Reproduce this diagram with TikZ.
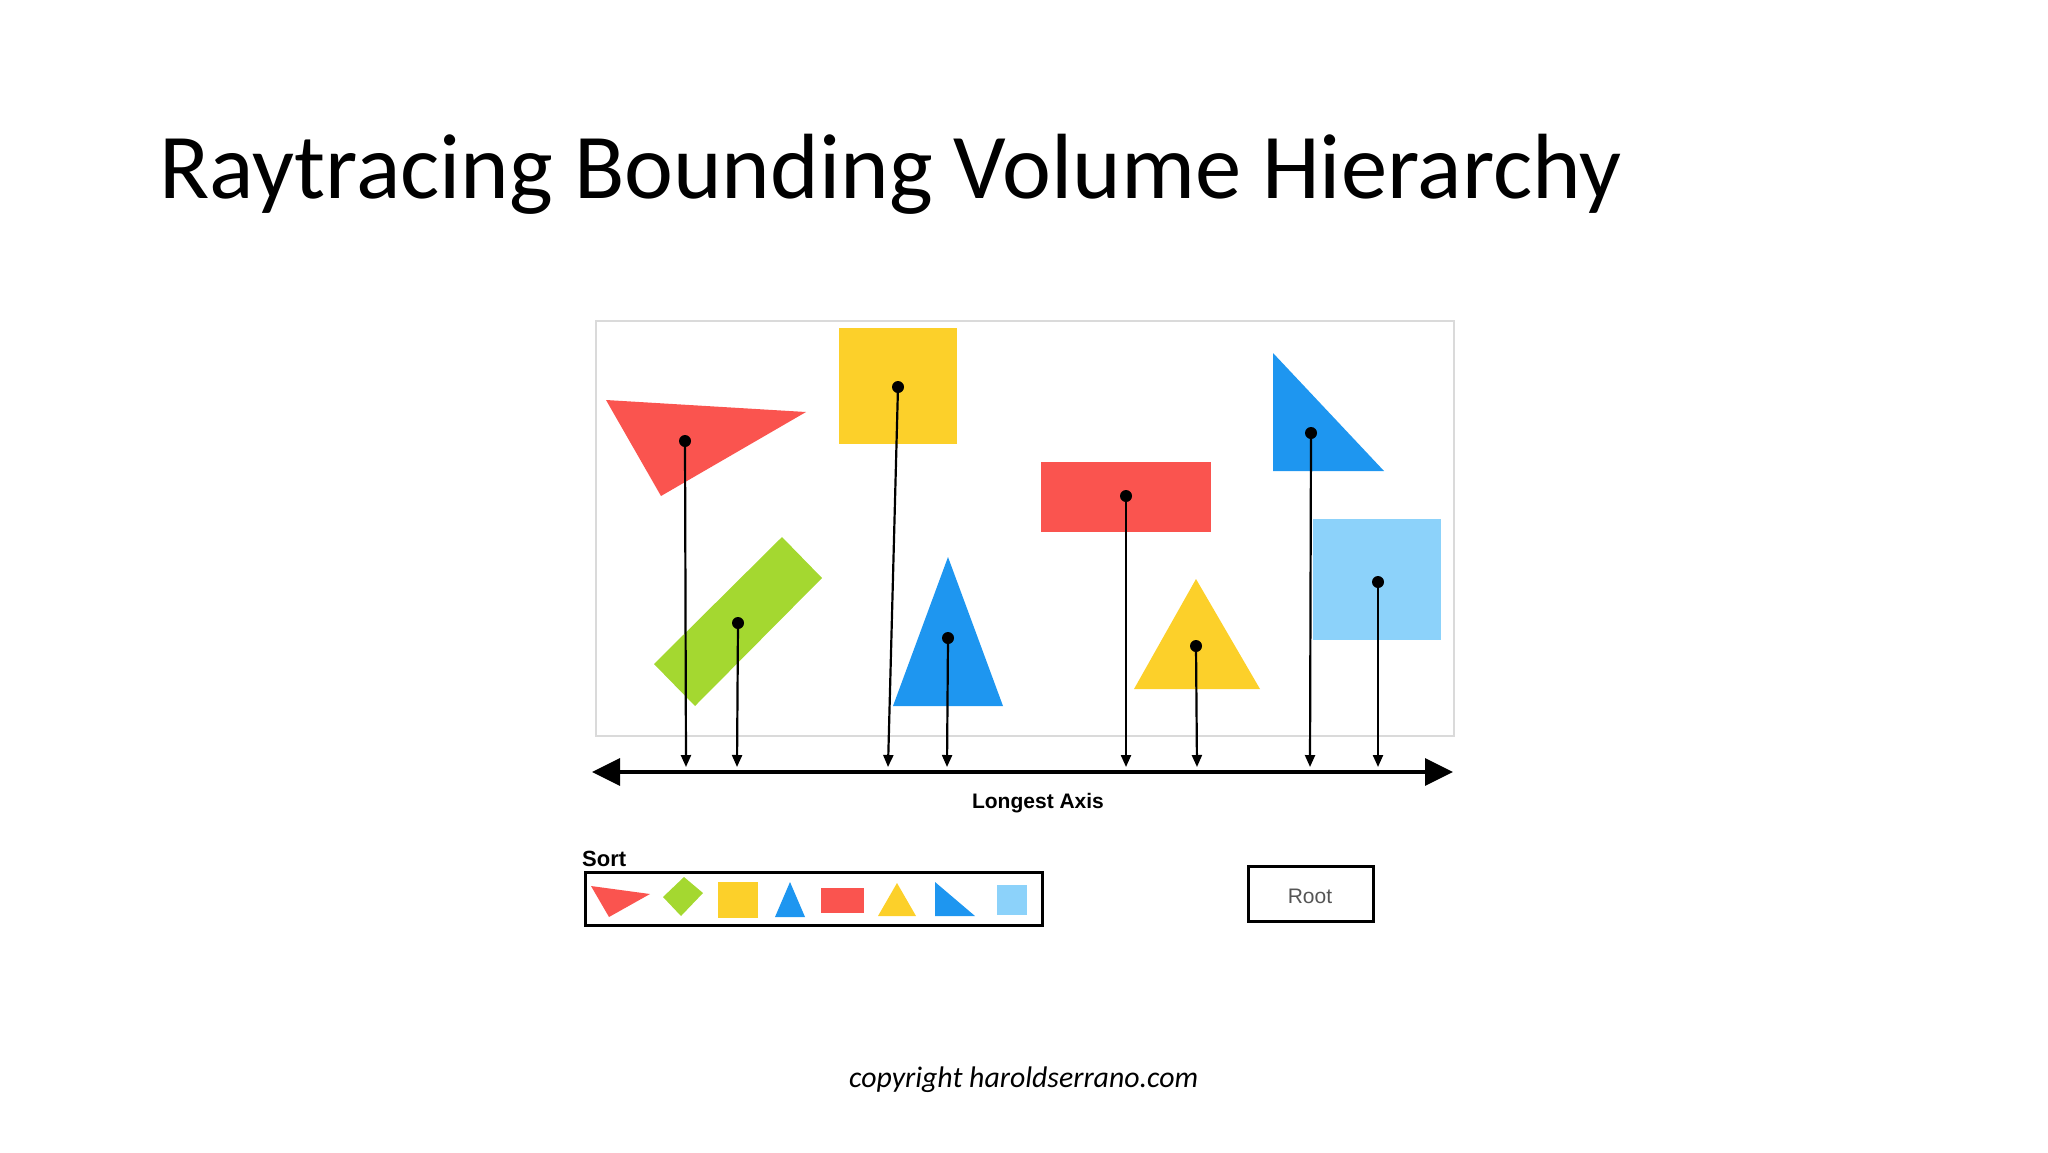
\documentclass[tikz,border=0pt]{standalone}
\usepackage{fontspec}
\setmainfont{Carlito}
\newfontfamily\arialfont{Liberation Sans}
\usetikzlibrary{arrows.meta}
\definecolor{cred}{RGB}{250,84,79}
\definecolor{cyellow}{RGB}{252,208,42}
\definecolor{cgreen}{RGB}{164,216,48}
\definecolor{cblue}{RGB}{30,150,240}
\definecolor{clblue}{RGB}{140,210,250}
\definecolor{cframe}{RGB}{218,218,218}
\definecolor{croot}{RGB}{85,85,85}
\tikzset{
  dotnode/.style={circle,fill=black,inner sep=0pt,minimum size=12pt},
  tickarrow/.style={line width=2.2pt,-{Triangle[length=12pt,width=10pt]}},
  axisline/.style={line width=3.5pt,{Triangle[length=28pt,width=27pt]}-{Triangle[length=28pt,width=27pt]}},
  boxnode/.style={draw=black,line width=3pt,inner sep=0pt},
  lbl/.style={inner sep=0pt}
}
\begin{document}
\begin{tikzpicture}[x=1pt,y=-1pt]
\useasboundingbox (0,0) rectangle (2048,1152);
% title
\node[lbl,anchor=base west] (title) at (159,198) {\resizebox{1462pt}{!}{\fontsize{90}{90}\selectfont Raytracing Bounding Volume Hierarchy}};
% frame
\draw[cframe,line width=2pt] (596,321) rectangle (1454,736);
% shapes
\fill[cred] (606,400) -- (806,412) -- (661,496) -- cycle;
\fill[cyellow] (839,328) rectangle (957,444);
\fill[cgreen] (782,537) -- (822,578) -- (695,706) -- (654,664) -- cycle;
\fill[cblue] (948,557) -- (1003,706) -- (893,706) -- cycle;
\fill[cred] (1041,462) rectangle (1211,532);
\fill[cyellow] (1196,579) -- (1260,689) -- (1134,689) -- cycle;
\fill[cblue] (1273,353) -- (1384,471) -- (1273,471) -- cycle;
\fill[clblue] (1313,519) rectangle (1441,640);
% dots
\node[dotnode] (d1) at (685,441) {};
\node[dotnode] (d2) at (738,623) {};
\node[dotnode] (d3) at (898,387) {};
\node[dotnode] (d4) at (948,638) {};
\node[dotnode] (d5) at (1126,496) {};
\node[dotnode] (d6) at (1196,646) {};
\node[dotnode] (d7) at (1311,433) {};
\node[dotnode] (d8) at (1378,582) {};
% tick targets
\coordinate (t1) at (686,767);
\coordinate (t2) at (737,767);
\coordinate (t3) at (888,767);
\coordinate (t4) at (947,767);
\coordinate (t5) at (1126,767);
\coordinate (t6) at (1197,767);
\coordinate (t7) at (1310,767);
\coordinate (t8) at (1378,767);
\foreach \i in {1,...,8} {\draw[tickarrow] (d\i.center) -- (t\i);}
% axis
\coordinate (axL) at (592,772);
\coordinate (axR) at (1453,772);
\draw[axisline] (axL) -- (axR);
\node[lbl,anchor=base] (axlabel) at (1038,808) {\arialfont\bfseries\fontsize{21}{21}\selectfont Longest Axis};
% sort
\node[lbl,anchor=base west] (sortlbl) at (582,866) {\arialfont\bfseries\fontsize{22}{22}\selectfont Sort};
\node[boxnode,minimum width=457pt,minimum height=53pt] (sortbox) at (814,899) {};
\fill[cred] (591,886) -- (650,894) -- (609,917) -- cycle;
\fill[cgreen] (663,897) -- (684,877) -- (703,893) -- (681,916) -- cycle;
\fill[cyellow] (718,882) rectangle (758,918);
\fill[cblue] (790,882) -- (805,917) -- (775,917) -- cycle;
\fill[cred] (821,888) rectangle (864,913);
\fill[cyellow] (897,883) -- (916,916) -- (878,916) -- cycle;
\fill[cblue] (935,882) -- (975,916) -- (935,916) -- cycle;
\fill[clblue] (997,885) rectangle (1027,915);
% root
\node[boxnode,minimum width=125pt,minimum height=55pt] (root) at (1311,894) {};
\node[lbl,text=croot] (rootlbl) at (1310,896) {\arialfont\fontsize{21}{21}\selectfont Root};
% copyright
\node[lbl,anchor=base west] (copy) at (849,1087) {\resizebox{349pt}{!}{\itshape\fontsize{30}{30}\selectfont copyright haroldserrano.com}};
\end{tikzpicture}
\end{document}
